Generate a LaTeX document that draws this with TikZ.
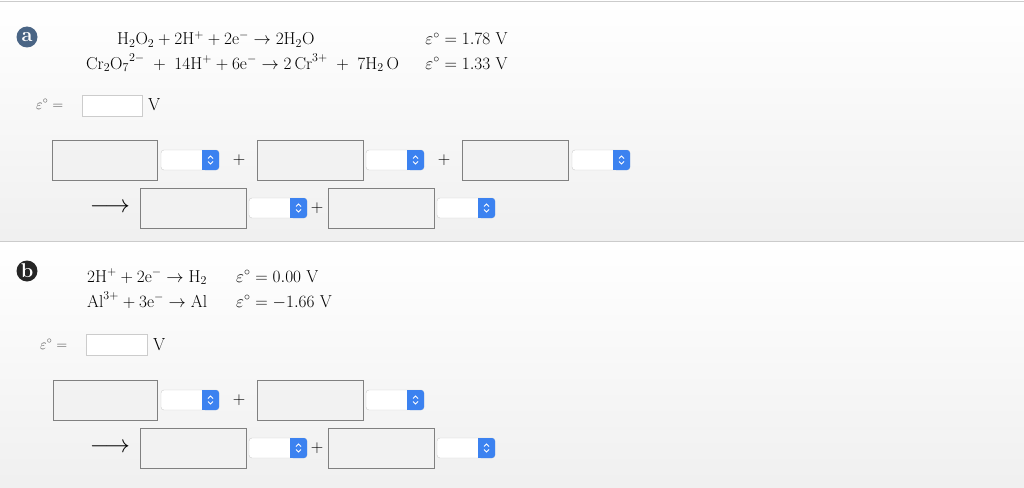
\documentclass[tikz,border=0pt]{standalone}
\usepackage{amsmath}
\begin{document}
\begin{tikzpicture}[x=1pt,y=-1pt,
  ansbox/.style={draw=black!50,line width=0.9pt,fill=black!5},
  txt/.style={inner sep=0pt,font=\fontsize{17.5}{20}\selectfont},
  lbl/.style={circle,inner sep=0pt,minimum size=21pt,text=white,font=\bfseries\fontsize{20}{20}\selectfont}]
\useasboundingbox (0,0) rectangle (1024,487);
\definecolor{ddblue}{RGB}{60,130,240}
\shade[top color=white,bottom color=black!6] (0,2) rectangle (1024,241);
\shade[top color=white,bottom color=black!6] (0,242) rectangle (1024,487);
\draw[black!20,line width=1pt] (0,1.5) -- (1024,1.5);
\draw[black!20,line width=1pt] (0,241.5) -- (1024,241.5);
\newcommand{\dd}[2]{%
  \draw[rounded corners=3pt,draw=black!20,fill=white] (#1,#2) rectangle ++(58,20);
  \fill[rounded corners=3pt,ddblue] (#1+41,#2) rectangle ++(17,20);
  \fill[ddblue] (#1+41,#2) rectangle ++(5,20);
  \draw[white,line width=0.8pt] (#1+47,#2+8.5) -- (#1+49.5,#2+6) -- (#1+52,#2+8.5);
  \draw[white,line width=0.8pt] (#1+47,#2+11.5) -- (#1+49.5,#2+14) -- (#1+52,#2+11.5);}
\newcommand{\bx}[3]{\draw[ansbox] (#1,#2) rectangle ++(#3,40);}
% a
\node[lbl,fill={rgb,255:red,74;green,101;blue,133}] (la) at (27,37) {a};
\node[txt,anchor=base west] (a1) at (117,45) {$\mathrm{H_2O_2}+2\mathrm{H}^+ + 2\mathrm{e}^- \rightarrow 2\mathrm{H_2O}$};
\node[txt,anchor=base east] (a1e) at (508,45) {$\varepsilon^\circ = 1.78\ \mathrm{V}$};
\node[txt,anchor=base west] (a2) at (86,69) {$\mathrm{Cr_2O_7}^{2-}\;+\;14\mathrm{H}^+ + 6\mathrm{e}^- \rightarrow 2\,\mathrm{Cr}^{3+}\;+\;7\mathrm{H_2\,O}$};
\node[txt,anchor=base east] (a2e) at (508,69) {$\varepsilon^\circ = 1.33\ \mathrm{V}$};
\node[txt,anchor=base west,text=black!70,font=\fontsize{14}{16}\selectfont] (ae) at (36,109) {$\varepsilon^\circ =$};
\draw[draw=black!20,fill=white] (82,95) rectangle (142,116);
\node[txt,anchor=base west] (av) at (148,110) {V};
\bx{52}{140}{105} \dd{161}{150} \node[txt] (p1) at (239,160) {$+$};
\bx{257}{140}{106} \dd{366}{150} \node[txt] (p2) at (444,160) {$+$};
\bx{462}{140}{106} \dd{572}{150}
\node[txt,font=\fontsize{23}{24}\selectfont] (ar) at (110,208) {$\longrightarrow$};
\bx{140}{188}{106} \dd{249}{198} \node[txt] (p3) at (317,208) {$+$};
\bx{328}{188}{106} \dd{437}{198}
% b
\node[lbl,fill=black!85] (lb) at (27,271) {b};
\node[txt,anchor=base west] (b1) at (87,282) {$2\mathrm{H}^+ + 2\mathrm{e}^- \rightarrow \mathrm{H_2}$};
\node[txt,anchor=base west] (b1e) at (236,282) {$\varepsilon^\circ = 0.00\ \mathrm{V}$};
\node[txt,anchor=base west] (b2) at (87,307) {$\mathrm{Al}^{3+} + 3\mathrm{e}^- \rightarrow \mathrm{Al}$};
\node[txt,anchor=base west] (b2e) at (236,307) {$\varepsilon^\circ = -1.66\ \mathrm{V}$};
\node[txt,anchor=base west,text=black!70,font=\fontsize{14}{16}\selectfont] (be) at (40,349) {$\varepsilon^\circ =$};
\draw[draw=black!20,fill=white] (86,334) rectangle (147,355);
\node[txt,anchor=base west] (bv) at (153,350) {V};
\bx{53}{380}{104} \dd{161}{390} \node[txt] (p4) at (239,400) {$+$};
\bx{257}{380}{106} \dd{366}{390}
\node[txt,font=\fontsize{23}{24}\selectfont] (br) at (110,448) {$\longrightarrow$};
\bx{140}{428}{106} \dd{249}{438} \node[txt] (p5) at (317,448) {$+$};
\bx{328}{428}{106} \dd{437}{438}
\end{tikzpicture}
\end{document}
